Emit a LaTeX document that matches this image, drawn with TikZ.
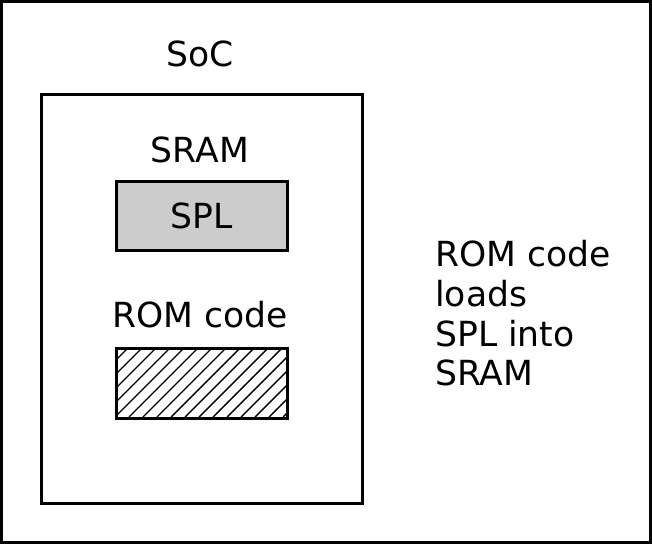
\documentclass[tikz,border=0pt]{standalone}
\usepackage{fontspec}
\setmainfont{DejaVu Sans}
\begin{document}
\begin{tikzpicture}[x=0.03cm,y=-0.03cm,
  lbl/.style={font=\fontsize{29.5pt}{36pt}\selectfont,inner sep=0pt},
  box/.style={draw,line width=2.2pt}]
\useasboundingbox (0,0) rectangle (652,544);
\draw[line width=2.5pt] (1.5,1.5) rectangle (650.5,542.5);
\node[box,minimum width=321*0.03cm,minimum height=409*0.03cm,anchor=north west] (soc) at (40,93) {};
\node[lbl] (soct) at (200,54) {SoC};
\node[lbl] (sramt) at (200,150) {SRAM};
\node[box,fill=black!20,minimum width=171*0.03cm,minimum height=69*0.03cm,anchor=north west] (spl) at (115,180) {};
\node[lbl] at (spl.center) {SPL};
\node[lbl] (romt) at (200,315) {ROM code};
\begin{scope}
\clip (115,347) rectangle (286,417);
\foreach \i in {0,...,20}{\draw[line width=1.2pt] (115+\i*14-70,417) -- (115+\i*14,347);}
\end{scope}
\node[box,minimum width=171*0.03cm,minimum height=70*0.03cm,anchor=north west] (rom) at (115,347) {};
\node[lbl,anchor=north west,align=left] (note) at (435,240) {ROM code\\[-2pt]loads\\[-2pt]SPL into\\[-2pt]SRAM};
\end{tikzpicture}
\end{document}
